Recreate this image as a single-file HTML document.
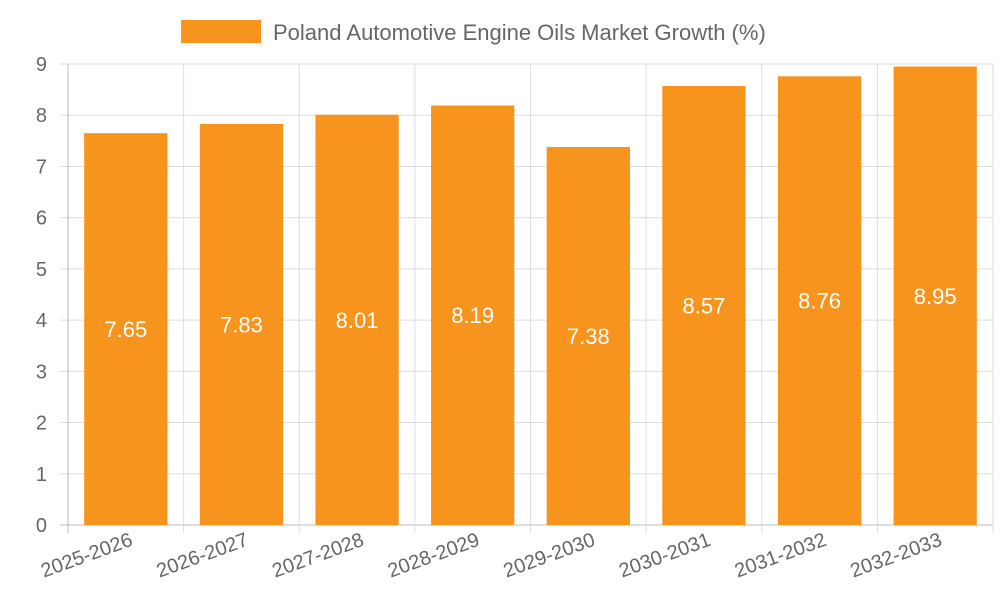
<!DOCTYPE html>
<html><head><meta charset="utf-8"><style>
body{margin:0;background:#fff;}
svg{display:block;font-family:"Liberation Sans",Arial,sans-serif;}
</style></head><body>
<svg id="chart" width="1000" height="600">
<g>
<rect x="181" y="20" width="80" height="23" fill="#f7941d"></rect>
<text x="273" y="40" font-size="22" fill="#666">Poland Automotive Engine Oils Market Growth (%)</text>
</g>
<g id="grid"></g><g id="bars"></g><g id="labels"></g>
</svg>
<script>
const categories=["2025-2026","2026-2027","2027-2028","2028-2029","2029-2030","2030-2031","2031-2032","2032-2033"];
const values=[7.65,7.83,8.01,8.19,7.38,8.57,8.76,8.95];
const yTicks=[0,1,2,3,4,5,6,7,8,9];
const L=68,R=993,T=64,B=525,YMAX=9;
const ns="http://www.w3.org/2000/svg";
const bw=(R-L)/categories.length;
function x(i){return L+bw*i;}
function y(v){return B-(B-T)*v/YMAX;}
function mk(tag,attrs,parent,text){const e=document.createElementNS(ns,tag);for(const k in attrs)e.setAttribute(k,attrs[k]);if(text!==undefined)e.textContent=text;parent.appendChild(e);return e;}
const g=document.getElementById('grid'),bg=document.getElementById('bars'),lg=document.getElementById('labels');
yTicks.forEach(t=>{
 const ln=mk('line',{x1:L-8,x2:R,y1:y(t),y2:y(t),stroke:t===0?'#bbb':'#ddd','stroke-width':1},g);
 
 
 const tx=mk('text',{x:L-21,y:y(t)+7,'font-size':20,fill:'#666','text-anchor':'end'},g,String(t));
 
 
});
for(let i=0;i<=categories.length;i++){
 const ln=mk('line',{x1:x(i),x2:x(i),y1:T,y2:B+8,stroke:i===0?'#bbb':'#ddd','stroke-width':1},g);
 
 
}
categories.forEach((c,i)=>{
 const v=values[i],pad=bw*0.14,bx=x(i)+pad,w=bw-2*pad;
 const r=mk('rect',{x:bx,y:y(v),width:w,height:B-y(v),fill:'#f7941d'},bg);
 
 
 const vt=mk('text',{x:bx+w/2,y:(y(v)+B)/2+8,'font-size':22,fill:'#fff','text-anchor':'middle'},lg,v.toFixed(2));
 
 
 const cx=x(i)+bw/2+8;
 const xt=mk('text',{x:cx,y:545,'font-size':20,fill:'#666','text-anchor':'end',transform:`rotate(-20 ${cx} 545)`},lg,c);
 
 
});
</script>
</body></html>
